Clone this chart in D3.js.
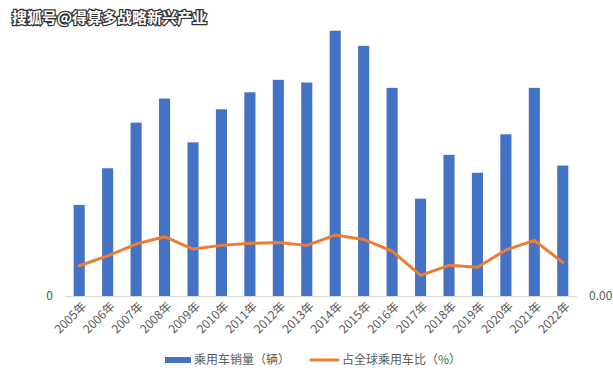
<!DOCTYPE html>
<html>
<head>
<meta charset="utf-8">
<script src="https://cdn.jsdelivr.net/npm/d3@7"></script>
<style>
  body { margin: 0; background: #fff; }
  svg { display: block; font-family: "Noto Sans CJK SC", "Noto Sans", sans-serif; }
</style>
</head>
<body>
<svg id="chart" width="613" height="374"></svg>
<script>
// years on the x axis
const years = ["2005年", "2006年", "2007年", "2008年", "2009年", "2010年", "2011年", "2012年", "2013年",
  "2014年", "2015年", "2016年", "2017年", "2018年", "2019年", "2020年", "2021年", "2022年"];
// 乘用车销量 (arbitrary units)
const sales = [102, 143, 194, 221, 172, 209, 228, 242, 239, 297, 280, 233, 109, 158, 138, 181, 233, 146];
// 占全球乘用车比 (%)
const share = [2.03, 2.70, 3.49, 3.98, 3.15, 3.40, 3.54, 3.60, 3.40, 4.09, 3.80, 3.02, 1.39, 2.06, 1.93, 3.09, 3.74, 2.26];

const svg = d3.select("#chart");
const plotLeft = 65, plotRight = 577, plotTop = 28, plotBottom = 296;

const x = d3.scaleBand().domain(years).range([plotLeft, plotRight]).paddingInner(0.61).paddingOuter(0.305);
const y = d3.scaleLinear().domain([0, 300]).range([plotBottom, plotTop]);
const y2 = d3.scaleLinear().domain([0, 18]).range([plotBottom, plotTop]);

// bars
svg.append("g")
  .selectAll("rect")
  .data(sales)
  .join("rect")
  .attr("x", (d, i) => x(years[i]))
  .attr("y", d => y(d))
  .attr("width", x.bandwidth())
  .attr("height", d => plotBottom - y(d))
  .attr("fill", "#4472C4");

// baseline
svg.append("line")
  .attr("x1", plotLeft).attr("x2", plotRight)
  .attr("y1", plotBottom + 0.5).attr("y2", plotBottom + 0.5)
  .attr("stroke", "#d9d9d9");

// line series
const line = d3.line()
  .x((d, i) => x(years[i]) + x.bandwidth() / 2)
  .y(d => y2(d));

svg.append("path")
  .datum(share)
  .attr("d", line)
  .attr("fill", "none")
  .attr("stroke", "#ED7D31")
  .attr("stroke-width", 3)
  .attr("stroke-linejoin", "round")
  .attr("stroke-linecap", "round");

// y axes - only zero labels shown
svg.append("text")
  .attr("x", 53).attr("y", y(0))
  .attr("dy", "0.35em")
  .attr("text-anchor", "end")
  .attr("font-size", 12).attr("fill", "#595959")
  .text(y.tickFormat()(0));

svg.append("text")
  .attr("x", 589).attr("y", y2(0))
  .attr("dy", "0.35em")
  .attr("font-size", 12).attr("fill", "#595959")
  .text(d3.format(".2f")(0));

// x labels rotated
svg.append("g")
  .selectAll("text")
  .data(years)
  .join("text")
  .attr("transform", d => `translate(${x(d) + x.bandwidth() / 2 + 5},${plotBottom + 8}) rotate(-45)`)
  .attr("text-anchor", "end")
  .attr("dy", "0.35em")
  .attr("font-size", 12).attr("fill", "#595959")
  .text(d => d);

// legend
const lg = svg.append("g").attr("font-size", 12).attr("fill", "#595959");
lg.append("rect").attr("x", 165).attr("y", 357).attr("width", 26).attr("height", 6).attr("fill", "#4472C4");
lg.append("text").attr("x", 194).attr("y", 360).attr("dy", "0.35em").text("乘用车销量（辆）");
lg.append("line").attr("x1", 311).attr("x2", 338).attr("y1", 360).attr("y2", 360)
  .attr("stroke", "#ED7D31").attr("stroke-width", 3).attr("stroke-linecap", "round");
lg.append("text").attr("x", 342).attr("y", 360).attr("dy", "0.35em").text("占全球乘用车比（%）");

// watermark
svg.append("text")
  .attr("x", 12).attr("y", 23)
  .attr("font-size", 15).attr("font-weight", "bold")
  .attr("fill", "#fff")
  .attr("stroke", "#333").attr("stroke-width", 2.5)
  .attr("paint-order", "stroke")
  .text("搜狐号@得算多战略新兴产业");
</script>
</body>
</html>
